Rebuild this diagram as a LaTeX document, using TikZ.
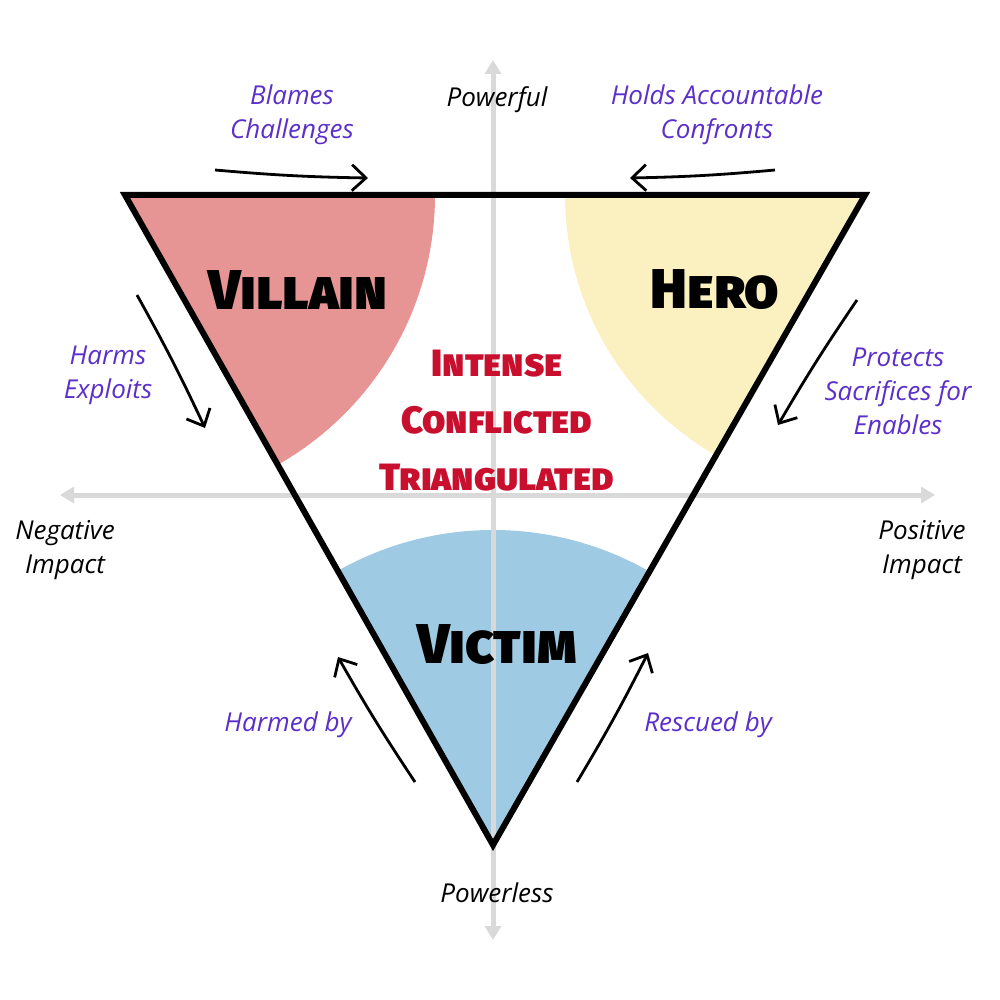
\documentclass[tikz,border=0pt]{standalone}
\usepackage{fontspec}
\setmainfont{Open Sans}
\newfontfamily\markfont{Fira Sans Black}
\usetikzlibrary{arrows.meta}
\definecolor{vred}{HTML}{E69494}
\definecolor{hyel}{HTML}{FBF0C0}
\definecolor{vblue}{HTML}{9ECBE3}
\definecolor{lblp}{HTML}{5B2FC9}
\definecolor{ired}{HTML}{C8102E}
\begin{document}
\begin{tikzpicture}[x=1pt,y=-1pt,
  lbl/.style={font=\itshape\fontsize{26}{34}\selectfont, text=lblp, align=center},
  axl/.style={font=\itshape\fontsize{26}{34}\selectfont, text=black, align=center},
  role/.style={font=\markfont\fontsize{56}{58}\selectfont\scshape},
  axis/.style={line width=5pt, draw=black!15, {Triangle[length=14pt,width=16pt]}-{Triangle[length=14pt,width=16pt]}},
  flow/.style={line width=2.8pt, -{Straight Barb[length=14pt,width=26pt]}}]
\useasboundingbox (0,0) rectangle (1000,1000);
\coordinate (TL) at (125,195); \coordinate (TR) at (865,195); \coordinate (B) at (493,845);
\begin{scope}
\clip (TL) -- (TR) -- (B) -- cycle;
\fill[vred] (TL) circle (310);
\fill[hyel] (TR) circle (300);
\fill[vblue] (B) circle (315);
\end{scope}
\coordinate (vt) at (493,60); \coordinate (vb) at (493,940);
\coordinate (hl) at (60,495); \coordinate (hr) at (935,495);
\draw[axis] (vt) -- (vb);
\draw[axis] (hl) -- (hr);
\draw[line width=6pt, line join=miter] (TL) -- (TR) -- (B) -- cycle;
\node[role] (vil) at (298,290) {Villain};
\node[role] (her) at (715,290) {Hero};
\node[role] (vic) at (497,645) {Victim};
\node[font=\markfont\fontsize{38}{57}\selectfont\scshape, text=ired, align=center] (mid) at (497,421) {Intense\\Conflicted\\Triangulated};
\node[axl] (pw) at (497,100) {Powerful};
\node[axl] (pl) at (497,893) {Powerless};
\node[axl] (ni) at (65,550) {Negative\\Impact};
\node[axl] (pi) at (922,550) {Positive\\Impact};
\node[lbl] (l1) at (292,115) {Blames\\Challenges};
\node[lbl] (l2) at (717,115) {Holds Accountable\\Confronts};
\node[lbl] (l3) at (108,375) {Harms\\Exploits};
\node[lbl] (l4) at (898,391) {Protects\\Sacrifices for\\Enables};
\node[lbl] (l5) at (288,725) {Harmed by};
\node[lbl] (l6) at (708,725) {Rescued by};
\coordinate (a1s) at (215,170); \coordinate (a1e) at (368,178);
\coordinate (a2s) at (775,170); \coordinate (a2e) at (630,178);
\coordinate (a3s) at (137,295); \coordinate (a3e) at (205,428);
\coordinate (a4s) at (857,300); \coordinate (a4e) at (778,425);
\coordinate (a5s) at (415,782); \coordinate (a5e) at (338,657);
\coordinate (a6s) at (577,782); \coordinate (a6e) at (648,653);
\draw[flow] (a1s) to[bend right=2] (a1e);
\draw[flow] (a2s) to[bend left=2] (a2e);
\draw[flow] (a3s) to[bend left=2] (a3e);
\draw[flow] (a4s) to[bend right=2] (a4e);
\draw[flow] (a5s) to[bend left=2] (a5e);
\draw[flow] (a6s) to[bend right=2] (a6e);
\end{tikzpicture}
\end{document}
